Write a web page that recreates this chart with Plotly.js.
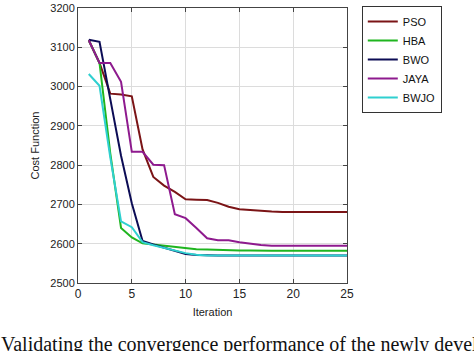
<!DOCTYPE html>
<html>
<head>
<meta charset="utf-8">
<script src="https://cdn.plot.ly/plotly-3.0.1.min.js"></script>
<style>html,body{margin:0;padding:0;background:#fff;}#chart{width:474px;height:351px;}</style>
</head>
<body>
<div id="chart"></div>
<script>
const iterations = [1,2,3,4,5,6,7,8,9,10,11,12,13,14,15,16,17,18,19,20,21,22,23,24,25];
const seriesNames = ["PSO","HBA","BWO","JAYA","BWJO"];
const pso  = [3118,3060,2982,2980,2975,2840,2770,2748,2732,2713,2712,2711,2704,2694,2688,2686,2683,2682,2681,2681,2681,2681,2681,2681,2681];
const hba  = [3118,3060,2830,2640,2616,2601,2598,2595,2592,2588,2586,2585,2584,2584,2583,2583,2582,2582,2582,2582,2582,2582,2582,2582,2582];
const bwo  = [3119,3114,2968,2824,2703,2607,2598,2590,2582,2574,2571,2570,2570,2570,2570,2570,2570,2570,2570,2570,2570,2570,2570,2570,2570];
const jaya = [3118,3060,3060,3012,2834,2834,2801,2800,2675,2665,2640,2614,2609,2609,2604,2600,2597,2595,2595,2595,2595,2595,2595,2595,2595];
const bwjo = [3032,3002,2820,2657,2642,2604,2596,2589,2582,2576,2572,2570,2570,2570,2570,2570,2570,2570,2570,2570,2570,2570,2570,2570,2570];
const xTicks = [0,5,10,15,20,25];
const yTicks = [2500,2600,2700,2800,2900,3000,3100,3200];
const colors = ["#7b1416","#1fb51f","#0c0c55","#8e1a8e","#2fd0d0"];
const allSeries = [pso,hba,bwo,jaya,bwjo];

const traces = allSeries.map((s,i)=>({
  x: iterations, y: s, type:'scatter', mode:'lines', name: seriesNames[i],
  line:{color: colors[i], width:2}
}));

const layout = {
  width:474, height:351,
  margin:{l:78, r:127, t:7, b:68},
  paper_bgcolor:'#fff', plot_bgcolor:'#fff',
  font:{family:'Liberation Sans, Arial, sans-serif', size:11, color:'#222'},
  xaxis:{range:[0,25], tickvals:xTicks, ticktext:xTicks.map(String),
    showgrid:true, gridcolor:'#dcdcdc', zeroline:false,
    showline:true, linecolor:'#444', mirror:'ticks', ticks:'inside', ticklen:4, tickcolor:'#444',
    title:{text:'Iteration', font:{size:11}, standoff:7}, tickfont:{size:12}},
  yaxis:{range:[2500,3200], tickvals:yTicks, ticktext:yTicks.map(String),
    showgrid:true, gridcolor:'#dcdcdc', zeroline:false,
    showline:true, linecolor:'#444', mirror:'ticks', ticks:'inside', ticklen:4, tickcolor:'#444',
    title:{text:'Cost Function', font:{size:11}, standoff:8}, tickfont:{size:11}},
  legend:{x:1.055, y:1.004, xanchor:'left', yanchor:'top', bordercolor:'#333', borderwidth:1,
    bgcolor:'#fff', font:{size:11, color:'#111'}, tracegroupgap:0},
  showlegend:true,
  annotations:[{text:'Validating the convergence performance of the newly developed algorithm', xref:'paper', yref:'paper',
    x:-0.292, y:-0.175, xanchor:'left', yanchor:'top', showarrow:false,
    font:{family:'Liberation Serif, Times New Roman, serif', size:20, color:'#111'}}]
};
Plotly.newPlot('chart', traces, layout, {displayModeBar:false, staticPlot:true});
</script>
</body>
</html>
